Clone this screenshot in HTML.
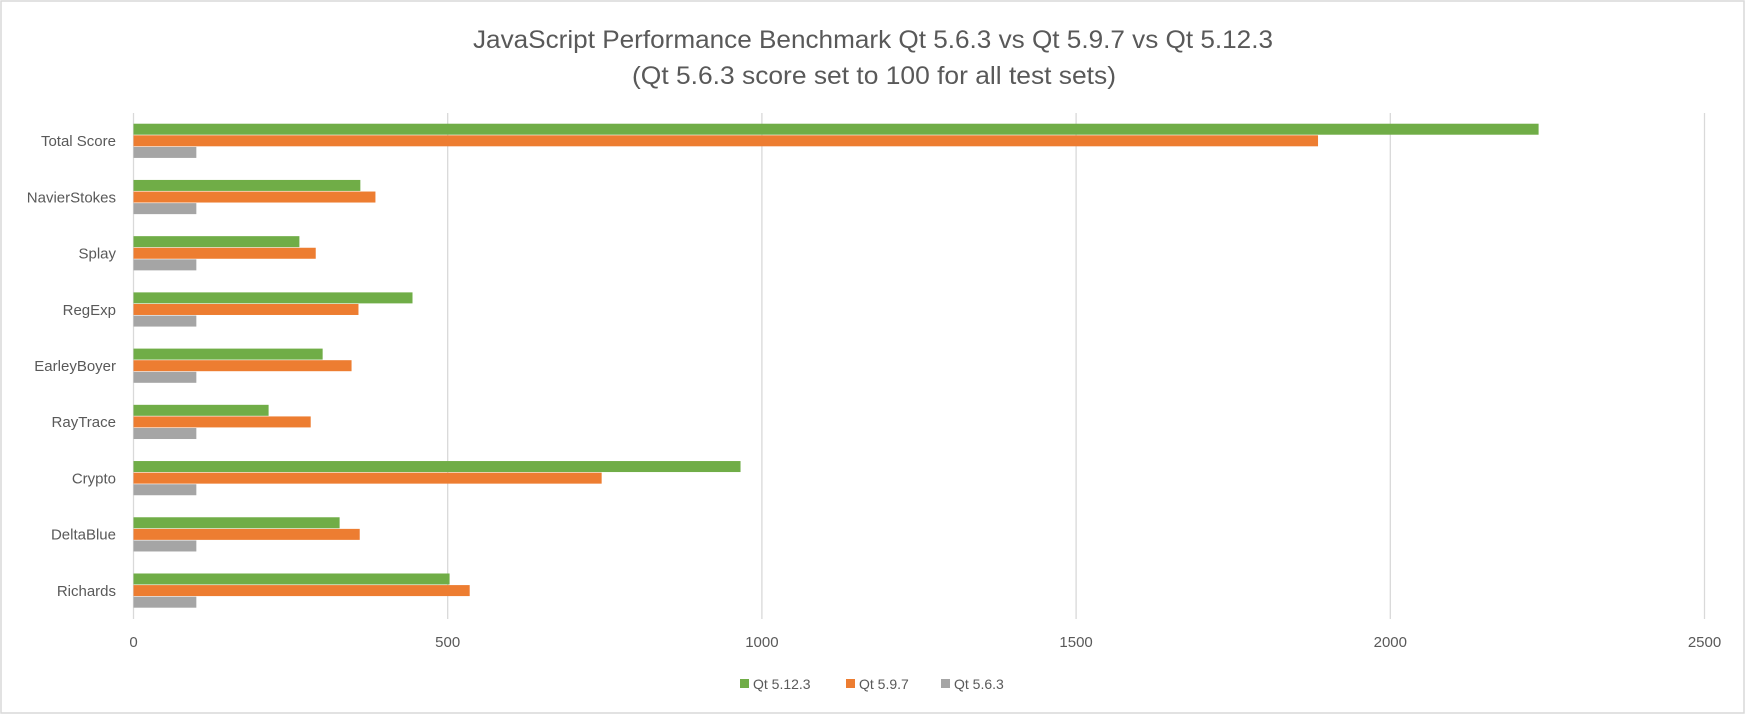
<!DOCTYPE html>
<html><head><meta charset="utf-8"><style>
html,body{margin:0;padding:0;background:#fff;}
svg{display:block;font-family:"Liberation Sans",sans-serif;}
</style></head><body>
<svg id="chart" width="1745" height="714" viewBox="0 0 1745 714">
<rect x="1" y="1" width="1743" height="712" fill="#fff" stroke="#d9d9d9" stroke-width="1.5"/>
<text x="873" y="48" text-anchor="middle" font-size="25" fill="#595959" textLength="800" lengthAdjust="spacingAndGlyphs">JavaScript Performance  Benchmark Qt 5.6.3 vs Qt 5.9.7 vs Qt 5.12.3</text>
<text x="874" y="84" text-anchor="middle" font-size="25" fill="#595959" textLength="484" lengthAdjust="spacingAndGlyphs">(Qt 5.6.3 score set to 100 for all test sets)</text>
<g id="grid"></g>
<g id="bars"></g>
<g id="labels"></g>
<g id="legend"></g>
</svg>
<script>
const categories = ["Total Score","NavierStokes","Splay","RegExp","EarleyBoyer","RayTrace","Crypto","DeltaBlue","Richards"];
const qt5123 = [2236,361,264,444,301,215,966,328,503];
const qt597 = [1885,385,290,358,347,282,745,360,535];
const qt563 = [100,100,100,100,100,100,100,100,100];
const ticks = [0,500,1000,1500,2000,2500];
const seriesNames = ["Qt 5.12.3","Qt 5.9.7","Qt 5.6.3"];

const NS = "http://www.w3.org/2000/svg";
const X0 = 133.5, XMAX = 2500, PW = 1571;
const PT = 113, PB = 619;
const band = (PB - PT) / categories.length;
const barH = 11.6;
function xs(v){ return X0 + v / XMAX * PW; }
function yb(i){ return PT + i * band + (band - 3*barH) / 2; }
function mk(tag, attrs, parent){
  const e = document.createElementNS(NS, tag);
  for (const k in attrs) e.setAttribute(k, attrs[k]);
  parent.appendChild(e); return e;
}
const grid = document.getElementById('grid');
const bars = document.getElementById('bars');
const labels = document.getElementById('labels');
const legend = document.getElementById('legend');

ticks.forEach(t => {
  const l = mk('line', {x1: xs(t), x2: xs(t), y1: PT, y2: PB, stroke: '#d9d9d9', 'stroke-width': 1.3}, grid);
  
  
  const tx = mk('text', {x: xs(t), y: 647, 'text-anchor': 'middle', 'font-size': 15, fill: '#595959'}, labels);
  tx.textContent = t;
  
  
});

const series = [qt5123, qt597, qt563];
const colors = ["#70ad47", "#ed7d31", "#a5a5a5"];
const keys = ["qt5123", "qt597", "qt563"];
categories.forEach((c, i) => {
  series.forEach((s, j) => {
    const r = mk('rect', {x: xs(0), y: yb(i) + j*barH, width: xs(s[i]) - xs(0), height: barH - 0.6, fill: colors[j]}, bars);
    
    
  });
  const t = mk('text', {x: 116, y: PT + i*band + band/2 + 5, 'text-anchor': 'end', 'font-size': 15, fill: '#595959'}, labels);
  t.textContent = c;
  
  
});

const legX = [740, 846, 941];
seriesNames.forEach((n, j) => {
  const g = mk('g', {}, legend);
  
  
  const sw = mk('rect', {x: legX[j], y: 679, width: 9, height: 9, fill: colors[j]}, g);
  
  
  const t = mk('text', {x: legX[j] + 13, y: 689, 'font-size': 14, fill: '#595959'}, g);
  t.textContent = n;
  
  
});
</script>
</body></html>
